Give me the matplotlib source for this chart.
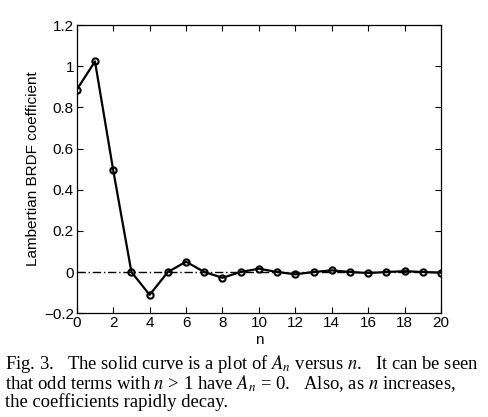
import matplotlib
matplotlib.use("Agg")
import matplotlib.pyplot as plt

n = list(range(21))
coef = [0.886, 1.023, 0.495, 0.0, -0.111, 0.0, 0.050, 0.0, -0.028, 0.0,
        0.016, 0.0, -0.011, 0.0, 0.008, 0.0, -0.005, 0.0, 0.004, 0.0, -0.003]
xticks = list(range(0, 21, 2))
yticks = [-0.2, 0, 0.2, 0.4, 0.6, 0.8, 1, 1.2]
ytick_labels = ["\u22120.2", "0", "0.2", "0.4", "0.6", "0.8", "1", "1.2"]

plt.rcParams['font.family'] = ['Liberation Sans', 'DejaVu Sans']
plt.rcParams['mathtext.fontset'] = 'stix'

fig = plt.figure(figsize=(4.89, 4.17), dpi=100)
ax = fig.add_axes([0.157, 0.249, 0.745, 0.691])

ax.plot([0, 20], [0, 0], color='black', lw=1.0, ls=(0, (6, 2, 1, 2)))
ax.plot(n, coef, color='black', lw=1.6, marker='o', markersize=4.5,
        markerfacecolor='none', markeredgewidth=1.5)

ax.set_xlim(0, 20)
ax.set_ylim(-0.2, 1.2)
ax.set_xticks(xticks)
ax.set_xticklabels([str(t) for t in xticks])
ax.set_yticks(yticks)
ax.set_yticklabels(ytick_labels)
ax.tick_params(direction='in', top=True, right=True, labelsize=11, length=4, width=0.8, pad=2)
for s in ax.spines.values():
    s.set_linewidth(0.9)
ax.set_xlabel('n', fontsize=11, labelpad=2)
ax.set_ylabel('Lambertian BRDF coefficient', fontsize=11, labelpad=3)

serif = ['Liberation Serif', 'DejaVu Serif']
fs = 13.4
fig.text(0.010, 0.128, "Fig. 3.   The solid curve is a plot of $A_n$ versus $n$.   It can be seen",
         family=serif, fontsize=fs, ha='left', va='center')
fig.text(0.010, 0.081, "that odd terms with $n$ > 1 have $A_n$ = 0.   Also, as $n$ increases,",
         family=serif, fontsize=fs, ha='left', va='center')
fig.text(0.010, 0.035, "the coefficients rapidly decay.",
         family=serif, fontsize=fs, ha='left', va='center')

fig.savefig('out.png', dpi=100)
